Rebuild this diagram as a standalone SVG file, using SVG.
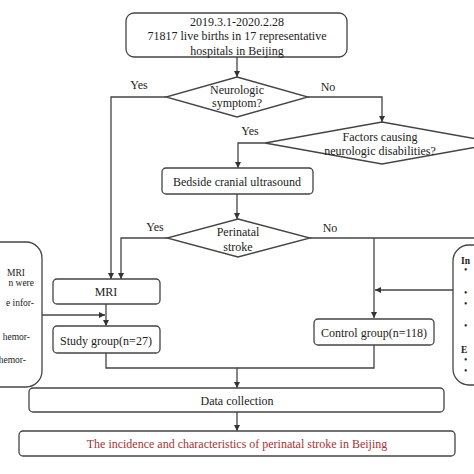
<svg xmlns="http://www.w3.org/2000/svg" width="474" height="474" viewBox="0 0 474 474">
<style>
.b{fill:#fff;stroke:#444;stroke-width:1.3}
.c{fill:none;stroke:#444;stroke-width:1.3}
.t{font-family:"Liberation Serif","Times New Roman",serif;font-size:12px;fill:#222;text-anchor:middle}
.s{font-family:"Liberation Serif","Times New Roman",serif;font-size:9.5px;fill:#222}
.r{fill:#a83232}
</style>
<defs>
<marker id="ah" viewBox="0 0 8 8" refX="8" refY="4" markerWidth="6" markerHeight="6" markerUnits="userSpaceOnUse" orient="auto">
<path d="M0,0 L8,4 L0,8 z" fill="#333"/>
</marker>
</defs>
<rect width="474" height="474" fill="#fff"/>
<g id="connectors" class="c" marker-end="url(#ah)">
<path d="M237,57 V77"/>
<path d="M166,97 H111 V279"/>
<path d="M308,97 H382 V122"/>
<path d="M265,143 H238 V168"/>
<path d="M237,194 V219"/>
<path d="M167,238 H121 V279"/>
<path d="M310,238 H474" marker-end="none"/>
<path d="M374,238 V318"/>
<path d="M453,290 H375"/>
<path d="M106,304 V326"/>
<path d="M42,315 H105"/>
<path d="M106,353 V368 H237 V388"/>
<path d="M374,345 V368 H237" marker-end="none"/>
<path d="M237,412 V431"/>
</g>
<g id="start">
<rect class="b" x="126" y="13" width="221" height="44" rx="8"/>
<text class="t" x="237" y="26">2019.3.1-2020.2.28</text>
<text class="t" x="237" y="40">71817 live births in 17 representative</text>
<text class="t" x="237" y="55">hospitals in Beijing</text>
</g>
<g id="neuro">
<polygon class="b" points="237,77 308,97 237,117 166,97"/>
<text class="t" x="237" y="94">Neurologic</text>
<text class="t" x="237" y="107">symptom?</text>
<text class="t" x="139" y="89">Yes</text>
<text class="t" x="328" y="91">No</text>
</g>
<g id="factors">
<polygon class="b" points="382,122 499,143 382,164 265,143"/>
<text class="t" x="380" y="141">Factors causing</text>
<text class="t" x="380" y="155">neurologic disabilities?</text>
<text class="t" x="250" y="135">Yes</text>
</g>
<g id="bedside">
<rect class="b" x="162" y="168" width="151" height="26" rx="4"/>
<text class="t" x="237" y="186">Bedside cranial ultrasound</text>
</g>
<g id="perinatal">
<polygon class="b" points="238,219 310,238 238,257 167,238"/>
<text class="t" x="238" y="236">Perinatal</text>
<text class="t" x="238" y="251">stroke</text>
<text class="t" x="155" y="231">Yes</text>
<text class="t" x="330" y="232">No</text>
</g>
<g id="left-note">
<rect class="b" x="-60" y="242" width="102" height="145" rx="16"/>
<text class="s" x="25" y="276" text-anchor="end">MRI</text>
<text class="s" x="34" y="286" text-anchor="end">n were</text>
<text class="s" x="34" y="306" text-anchor="end">e infor-</text>
<text class="s" x="30" y="340" text-anchor="end">hemor-</text>
<text class="s" x="26" y="363" text-anchor="end">hemor-</text>
</g>
<g id="right-note">
<rect class="b" x="453" y="245" width="80" height="140" rx="16"/>
<text class="s" x="461" y="264" font-weight="bold">In</text>
<text class="s" x="464" y="273">•</text>
<text class="s" x="464" y="296">•</text>
<text class="s" x="464" y="307">•</text>
<text class="s" x="464" y="329">•</text>
<text class="s" x="461" y="353" font-weight="bold">E</text>
<text class="s" x="464" y="363">•</text>
<text class="s" x="464" y="374">•</text>
</g>
<g id="mri">
<rect class="b" x="53" y="279" width="107" height="25" rx="4"/>
<text class="t" x="106" y="296">MRI</text>
</g>
<g id="study">
<rect class="b" x="53" y="326" width="107" height="27" rx="4"/>
<text class="t" x="106" y="345">Study group(n=27)</text>
</g>
<g id="control">
<rect class="b" x="314" y="319" width="120" height="26" rx="4"/>
<text class="t" x="374" y="337">Control group(n=118)</text>
</g>
<g id="data">
<rect class="b" x="29" y="388" width="415" height="24" rx="4"/>
<text class="t" x="237" y="405">Data collection</text>
</g>
<g id="result">
<rect class="b" x="19" y="431" width="436" height="25" rx="4"/>
<text class="t r" x="237" y="448">The incidence and characteristics of perinatal stroke in Beijing</text>
</g>
</svg>
